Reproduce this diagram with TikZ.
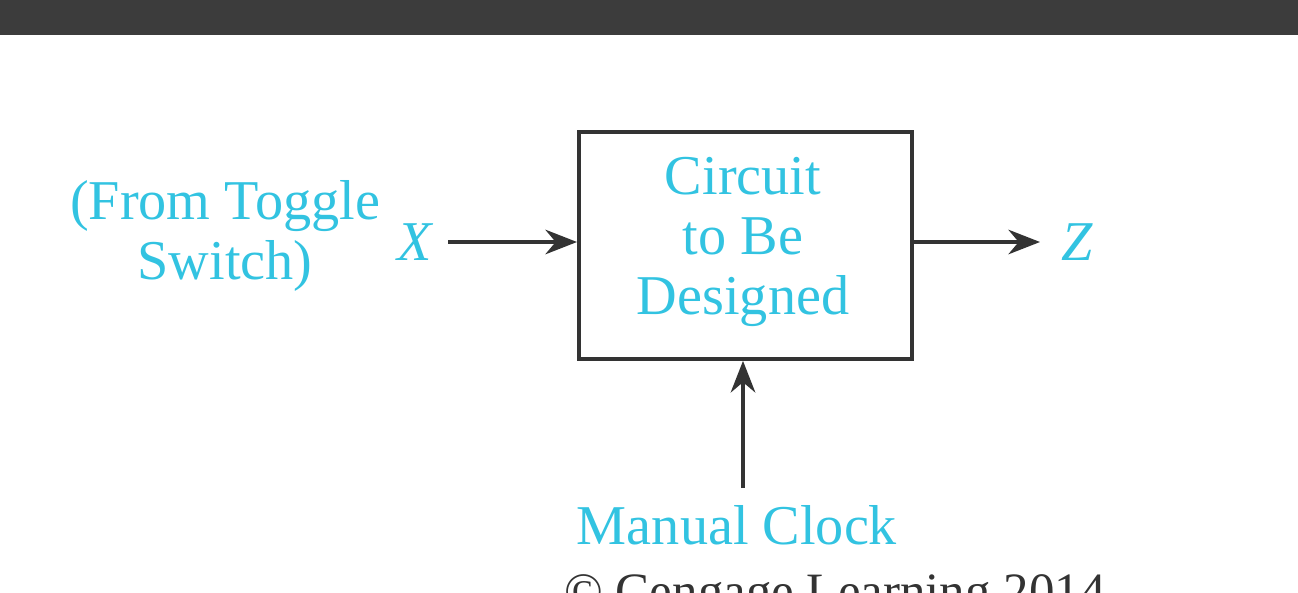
\documentclass[tikz,border=0pt]{standalone}
\usepackage{fontspec}
\setmainfont{Liberation Serif}
\usetikzlibrary{arrows.meta}
\definecolor{cy}{RGB}{50,195,225}
\definecolor{bar}{RGB}{60,60,60}
\begin{document}
\begin{tikzpicture}[x=0.02cm,y=-0.02cm,
  lbl/.style={text=cy,font=\fontsize{32}{34}\selectfont,align=center,inner sep=0},
  wire/.style={draw=black!80,line width=2pt,-{Stealth[length=18pt,width=14pt]}}]
\useasboundingbox (0,0) rectangle (1298,592);
\fill[bar] (0,0) rectangle (1298,35);
\node[draw=black!80,line width=2.2pt,minimum width=333*0.02cm,minimum height=227*0.02cm,anchor=north west] (box) at (577,130) {};
\node[lbl] (txt) at (743,242) {Circuit\\to Be\\Designed};
\node[lbl,font=\fontsize{32}{34}\selectfont\itshape] (x) at (415,242) {X};
\node[lbl] (from) at (225,236) {(From Toggle\\Switch)};
\node[lbl,font=\fontsize{32}{34}\selectfont\itshape] (z) at (1077,242) {Z};
\node[lbl] (clk) at (737,525) {Manual Clock};
\node[inner sep=0,font=\fontsize{29}{31}\selectfont,text=black!80,anchor=north] (cp) at (835,574) {© Cengage Learning 2014};
\draw[wire] (448,242) -- (box.west|-0,242);
\draw[wire] (box.east|-0,242) -- (1040,242);
\draw[wire] (743,488) -- (box.south-|743,0);
\end{tikzpicture}
\end{document}
